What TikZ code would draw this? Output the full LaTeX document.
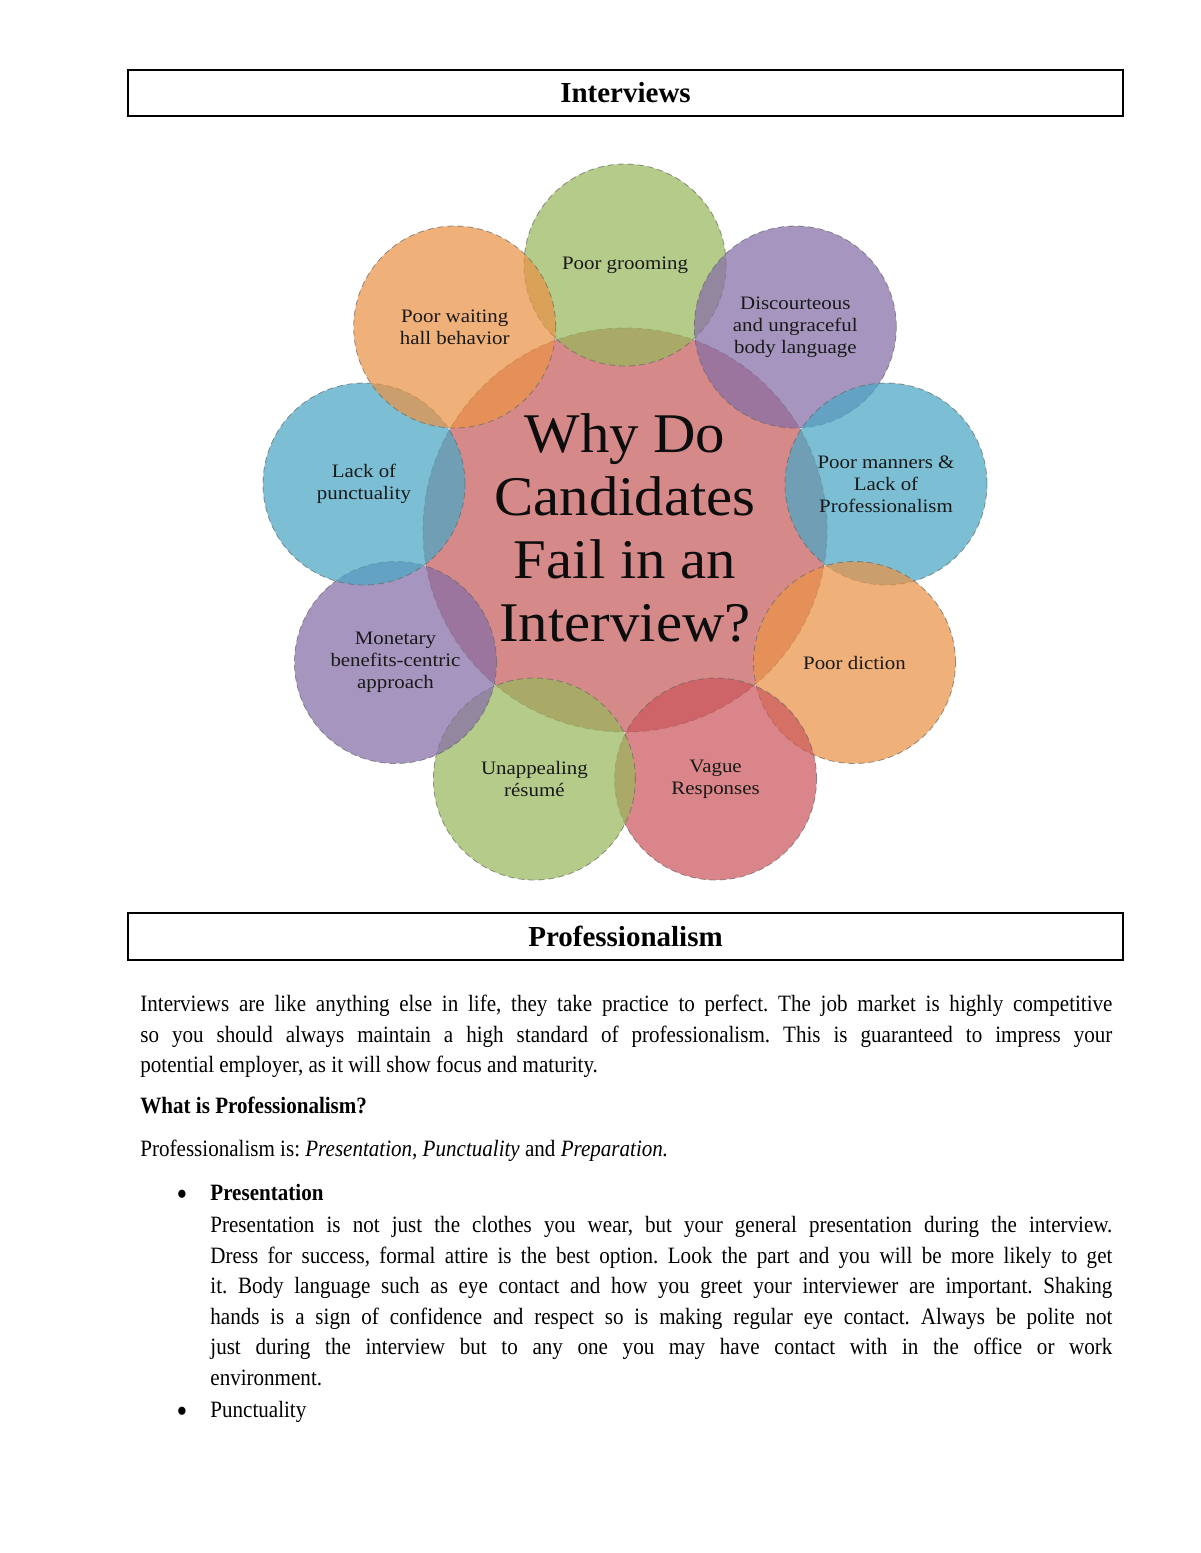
\documentclass[tikz,border=0pt]{standalone}
\usepackage{fontspec}
\setmainfont{Liberation Serif}
\newfontfamily\bodyf[FakeStretch=0.9]{Liberation Serif}
\newfontfamily\circf[FakeStretch=1.1]{Liberation Serif}
\newfontfamily\titf[FakeStretch=1.05]{Liberation Serif}
\definecolor{grnC}{RGB}{152,184,92}
\definecolor{purC}{RGB}{133,110,167}
\definecolor{bluC}{RGB}{74,167,197}
\definecolor{orgC}{RGB}{234,147,70}
\definecolor{redC}{RGB}{204,87,92}
\definecolor{pinkD}{RGB}{214,137,137}
\frenchspacing
\begin{document}
\begin{tikzpicture}[x=0.5pt,y=-0.5pt,
  hdr/.style={draw=black, line width=1pt, minimum width=497.5pt, minimum height=23pt, inner sep=0pt,
    font=\bfseries\fontsize{14.5}{17}\selectfont},
  bub/.style={circle, minimum size=101pt, inner sep=0pt, fill opacity=0.72, text opacity=1,
    draw=black!60, draw opacity=0.7, line width=0.4pt, densely dashed, align=center,
    font=\circf\fontsize{9.5}{11}\selectfont, text=black!90},
  hub/.style={circle, minimum size=202pt, inner sep=0pt, fill=pinkD,
    draw=black!60, draw opacity=0.7, line width=0.4pt, densely dashed},
  body/.style={anchor=base west, inner sep=0pt, font=\bodyf\fontsize{11.7}{14}\selectfont},
  blt/.style={anchor=base, inner sep=0pt, font=\bodyf\fontsize{17}{17}\selectfont}
]
\fill[white] (0,0) rectangle (1200,1553);
\useasboundingbox (0,0) rectangle (1200,1553);

% header 1
\node[hdr] (h1) at (625.5,93) {Interviews};

% diagram
\node[hub] (hub) at (625,530) {};
\node[font=\titf\fontsize{28}{31.5}\selectfont, align=center, inner sep=0pt, text=black!95] (title) at (625,528) {Why Do\\Candidates\\Fail in an\\Interview?};

\node[bub, fill=grnC] (c1) at (625,265) {Poor grooming};
\node[bub, fill=purC] (c2) at (795.3,327) {Discourteous\\and ungraceful\\body language};
\node[bub, fill=bluC] (c3) at (886,484) {Poor manners \&\\Lack of\\Professionalism};
\node[bub, fill=orgC] (c4) at (854.5,662.5) {Poor diction};
\node[bub, fill=redC] (c5) at (715.6,779) {Vague\\Responses};
\node[bub, fill=grnC] (c6) at (534.4,779) {Unappealing\\résumé};
\node[bub, fill=purC] (c7) at (395.5,662.5) {Monetary\\benefits-centric\\approach};
\node[bub, fill=bluC] (c8) at (364,484) {Lack of\\punctuality};
\node[bub, fill=orgC] (c9) at (454.7,327) {Poor waiting\\hall behavior};

% header 2
\node[hdr, minimum height=23.5pt] (h2) at (625.5,936.5) {Professionalism};

% body text
\node[body] (b1) at (140,1011) {\makebox[486pt][s]{Interviews are like anything else in life, they take practice to perfect. The job market is highly competitive}};
\node[body] (b2) at (140,1042) {\makebox[486pt][s]{so you should always maintain a high standard of professionalism. This is guaranteed to impress your}};
\node[body] (b3) at (140,1072) {potential employer, as it will show focus and maturity.};
\node[body] (b4) at (140,1113) {\bfseries What is Professionalism?};
\node[body] (b5) at (140,1156) {Professionalism is: \textit{Presentation, Punctuality} and \textit{Preparation.}};

\node[blt] (u1) at (182,1205) {\textbullet};
\node[body] (t1) at (210,1200) {\bfseries Presentation};
\node[body] (p1) at (210,1232) {\makebox[451pt][s]{Presentation is not just the clothes you wear, but your general presentation during the interview.}};
\node[body] (p2) at (210,1263) {\makebox[451pt][s]{Dress for success, formal attire is the best option. Look the part and you will be more likely to get}};
\node[body] (p3) at (210,1293) {\makebox[451pt][s]{it. Body language such as eye contact and how you greet your interviewer are important. Shaking}};
\node[body] (p4) at (210,1324) {\makebox[451pt][s]{hands is a sign of confidence and respect so is making regular eye contact. Always be polite not}};
\node[body] (p5) at (210,1354) {\makebox[451pt][s]{just during the interview but to any one you may have contact with in the office or work}};
\node[body] (p6) at (210,1385) {environment.};

\node[blt] (u2) at (182,1422) {\textbullet};
\node[body] (t2) at (210,1417) {Punctuality};
\end{tikzpicture}
\end{document}
